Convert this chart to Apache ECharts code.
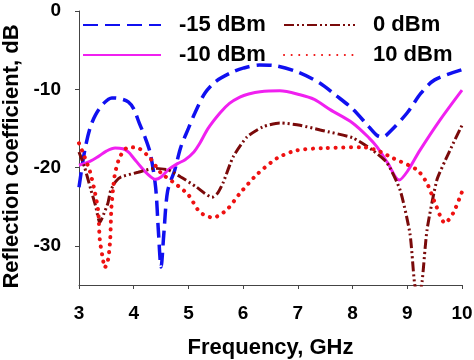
<!DOCTYPE html>
<html><head><meta charset="utf-8">
<script src="https://cdn.jsdelivr.net/npm/echarts@6/dist/echarts.min.js"></script>
<style>html,body{margin:0;padding:0;background:#fff}#c{width:474px;height:360px}</style>
</head><body><div id="c"></div>
<script>
var seriesNames = ['-15 dBm', '-10 dBm', '0 dBm', '10 dBm'];
var xTicks = [3, 4, 5, 6, 7, 8, 9, 10];
var yTicks = [0, -10, -20, -30];

var fBlue = [3.0, 3.1, 3.2, 3.3, 3.45, 3.6, 3.75, 3.9, 4.0, 4.1, 4.2, 4.3, 4.4, 4.45, 4.5, 4.55, 4.62, 4.75, 4.86, 5.0, 5.12, 5.3, 5.5, 5.8, 6.0, 6.3, 6.6, 7.0, 7.4, 7.7, 8.0, 8.3, 8.45, 8.55, 8.7, 9.0, 9.25, 9.5, 10.0];
var vBlue = [-22.5, -18, -15, -13.3, -11.8, -11.1, -11.2, -11.6, -12.5, -14.3, -16, -18.1, -22.5, -28, -32.7, -28.5, -23, -20.3, -17.4, -15, -13, -10.5, -9, -7.8, -7.3, -6.9, -7.0, -7.8, -9.2, -10.8, -12.5, -14.8, -15.9, -16.1, -15.3, -13, -10.5, -8.8, -7.5];

var fMag = [3.0, 3.2, 3.35, 3.5, 3.66, 3.8, 3.9, 4.0, 4.13, 4.25, 4.4, 4.5, 4.63, 4.8, 4.94, 5.1, 5.2, 5.36, 5.58, 5.75, 5.94, 6.1, 6.31, 6.67, 7.04, 7.3, 7.59, 8.0, 8.3, 8.45, 8.65, 8.85, 9.0, 9.23, 9.6, 10.0];
var vMag = [-19.7, -19.2, -18.6, -17.9, -17.5, -17.6, -18, -18.8, -19.9, -20.8, -21.5, -21.2, -20.3, -19.5, -19, -18, -17, -15, -13, -11.8, -11, -10.6, -10.3, -10.2, -10.7, -11.3, -12.6, -14.3, -16.2, -17.4, -19.5, -21.6, -20.5, -17.8, -13.9, -10.1];

var fDark = [3.0, 3.1, 3.22, 3.3, 3.38, 3.46, 3.53, 3.58, 3.67, 3.77, 4.08, 4.39, 4.63, 4.86, 5.15, 5.3, 5.43, 5.53, 5.63, 5.82, 6.07, 6.36, 6.67, 7.04, 7.41, 8.0, 8.37, 8.63, 8.87, 9.05, 9.13, 9.2, 9.27, 9.36, 9.54, 9.7, 9.84, 10.0];
var vDark = [-18, -19.9, -22.9, -24.8, -27, -25.8, -24.5, -22.9, -21.8, -21.2, -20.6, -20.1, -20.3, -21.2, -22.5, -23.3, -23.8, -23.3, -22, -18.6, -16.1, -14.8, -14.3, -14.6, -15.2, -16.2, -17.8, -19.4, -22.9, -28.5, -34.6, -37, -34.6, -28, -21.6, -19, -16.9, -14.6];

var fRed = [3.0, 3.1, 3.2, 3.28, 3.35, 3.38, 3.44, 3.47, 3.53, 3.57, 3.59, 3.62, 3.66, 3.75, 3.9, 4.08, 4.3, 4.5, 4.75, 5.0, 5.21, 5.45, 5.7, 5.94, 6.25, 6.62, 6.98, 7.5, 8.19, 8.45, 8.74, 9.18, 9.36, 9.5, 9.69, 9.84, 10.0];
var vRed = [-16.9, -18.6, -20.5, -22.8, -25.5, -29.2, -31.8, -32.8, -31.8, -29.2, -25.4, -22.9, -20.7, -18.6, -17.4, -17.5, -18.8, -20.7, -22, -23.5, -25.7, -26.4, -25.4, -23.3, -20.9, -18.8, -17.8, -17.5, -17.4, -17.8, -18.8, -20.3, -22, -24.4, -27.1, -25.8, -23.1];

function zip(a, b) { return a.map(function (x, i) { return [x, b[i]]; }); }

var FONT = 'Liberation Sans';
var chart = echarts.init(document.getElementById('c'), null, { renderer: 'canvas' });
var legendText = { fontFamily: FONT, fontWeight: 'bold', fontSize: 22, color: '#000', padding: [0, 0, 0, 13] };

chart.setOption({
  animation: false,
  backgroundColor: '#fff',
  grid: { left: 79, right: 12, top: 11, bottom: 75, containLabel: false, outerBoundsMode: 'none' },
  legend: [
    { data: [seriesNames[0], seriesNames[1]], orient: 'vertical', left: 82, top: 14, padding: 0,
      itemWidth: 78, itemHeight: 14, itemGap: 8, textStyle: legendText, selectedMode: false,
      itemStyle: { opacity: 0 } },
    { data: [seriesNames[2], seriesNames[3]], orient: 'vertical', left: 283, top: 14, padding: 0,
      itemWidth: 71, itemHeight: 14, itemGap: 8, textStyle: legendText, selectedMode: false,
      itemStyle: { opacity: 0 } }
  ],
  xAxis: {
    type: 'value', min: 3, max: 10, interval: 1,
    name: 'Frequency, GHz', nameLocation: 'middle', nameGap: 52,
    nameTextStyle: { fontFamily: FONT, fontWeight: 'bold', fontSize: 22, color: '#000' },
    axisLine: { onZero: false, lineStyle: { color: '#444', width: 1 } },
    axisTick: { show: true, inside: false, length: 4, lineStyle: { color: '#444' } },
    axisLabel: { margin: 19, fontFamily: FONT, fontWeight: 'bold', fontSize: 19, color: '#000',
      formatter: function (v) { return xTicks.indexOf(v) >= 0 ? String(v) : ''; } },
    splitLine: { show: false }
  },
  yAxis: {
    type: 'value', min: -35, max: 0, interval: 5,
    name: 'Reflection coefficient, dB', nameLocation: 'middle', nameGap: 56,
    nameTextStyle: { fontFamily: FONT, fontWeight: 'bold', fontSize: 22, color: '#000', padding: [0, 17, 0, 0] },
    axisLine: { show: true, onZero: false, lineStyle: { color: '#444', width: 1 } },
    axisTick: { show: true, inside: false, length: 4, lineStyle: { color: '#444' },
      customValues: yTicks },
    axisLabel: { margin: 18, fontFamily: FONT, fontWeight: 'bold', fontSize: 19, color: '#000',
      customValues: yTicks,
      formatter: function (v) { return yTicks.indexOf(v) >= 0 ? String(v) : ''; } },
    splitLine: { show: false }
  },
  series: [
    { name: seriesNames[0], type: 'line', data: zip(fBlue, vBlue), symbol: 'none', smooth: 0.3,
      clip: true, color: '#1010f0',
      lineStyle: { color: '#1010f0', width: 3.5, type: [15, 7] } },
    { name: seriesNames[1], type: 'line', data: zip(fMag, vMag), symbol: 'none', smooth: 0.3,
      clip: true, color: '#f020f0',
      lineStyle: { color: '#f020f0', width: 3, type: 'solid' } },
    { name: seriesNames[2], type: 'line', data: zip(fDark, vDark), symbol: 'none', smooth: 0.2,
      clip: true, color: '#7a0a0a',
      lineStyle: { color: '#7a0a0a', width: 3, type: [10, 3, 2, 3, 2, 3] } },
    { name: seriesNames[3], type: 'line', data: zip(fRed, vRed), symbol: 'none', smooth: 0.25,
      clip: true, color: '#ee1111',
      lineStyle: { color: '#ee1111', width: 4, type: [0.1, 7.5], cap: 'round' } }
  ]
});
</script></body></html>
